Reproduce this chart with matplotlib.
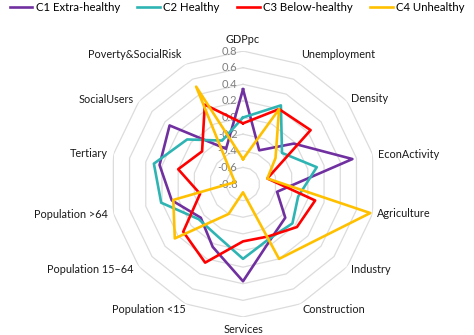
import numpy as np
import matplotlib
matplotlib.use("Agg")
import matplotlib.pyplot as plt

plt.rcParams['font.family'] = ['Lato', 'DejaVu Sans']

# categorias (ejes del radar), en sentido horario desde arriba
categorias = ["GDPpc", "Unemployment", "Density", "EconActivity", "Agriculture",
              "Industry", "Construction", "Services", "Population <15",
              "Population 15\u201364", "Population >64", "Tertiary",
              "SocialUsers", "Poverty&SocialRisk"]

c1 = [0.34, -0.35, -0.02, 0.55, -0.38, -0.15, -0.05, 0.37, 0.04, -0.15, 0.08, 0.23, 0.33, -0.33]
c2 = [0.00, 0.25, -0.20, 0.11, -0.12, -0.04, -0.07, 0.10, -0.10, -0.12, 0.21, 0.30, 0.06, -0.22]
c3 = [-0.07, 0.20, 0.24, -0.50, 0.09, 0.03, -0.10, -0.11, 0.25, 0.12, -0.27, 0.00, -0.17, 0.26]
c4 = [-0.50, 0.20, -0.30, -0.50, 0.77, 0.30, 0.20, -0.70, -0.40, 0.25, 0.06, -0.70, -0.63, 0.50]

nombres = ["C1 Extra-healthy", "C2 Healthy", "C3 Below-healthy", "C4 Unhealthy"]
colores = ["#7030A0", "#2FB4B4", "#FF0000", "#FFC000"]

niveles = [-0.8, -0.6, -0.4, -0.2, 0.0, 0.2, 0.4, 0.6, 0.8]

n = len(categorias)
ang = np.arange(n) * 2 * np.pi / n
ang_c = np.append(ang, ang[0])

fig = plt.figure(figsize=(4.74, 3.35), dpi=100)
ax = fig.add_axes([0.2321, 0.0537, 0.5612, 0.794], projection="polar")
ax.set_theta_zero_location("N")
ax.set_theta_direction(-1)
ax.set_ylim(-0.8, 0.8)
ax.grid(False)
ax.spines["polar"].set_visible(False)
ax.set_xticks([])
ax.set_yticks([])
ax.patch.set_alpha(0)

# anillos poligonales (rejilla)
for v in niveles[1:]:
    ax.plot(ang_c, [v] * (n + 1), color="#DCDCDC", lw=0.9, zorder=1)

# etiquetas del eje radial
for v in niveles:
    ax.annotate("{:.1f}".format(v), xy=(0, v), xytext=(-4, 0), textcoords="offset points",
                ha="right", va="center", fontsize=8, color="#7F7F7F", zorder=2)

# series
for datos, nombre, col in zip([c1, c2, c3, c4], nombres, colores):
    d = list(datos) + [datos[0]]
    ax.plot(ang_c, d, color=col, lw=1.9, label=nombre, zorder=3)

# etiquetas de categorias
offs = [(0, 4, "center", "bottom"), (0, 3, "left", "bottom"), (3, 2, "left", "center"),
        (4, 0, "left", "center"), (3, 0, "left", "center"), (3, -2, "left", "center"),
        (1, -4, "left", "center"), (0, -5, "center", "top"), (0, -4, "right", "center"),
        (-4, -2, "right", "center"), (-4, -1, "right", "center"), (-4, 1, "right", "center"),
        (-4, 1, "right", "center"), (-3, 3, "right", "bottom")]
for a, etiqueta, (ox, oy, ha, va) in zip(ang, categorias, offs):
    ax.annotate(etiqueta, xy=(a, 0.8), xytext=(ox, oy), textcoords="offset points",
                ha=ha, va=va, fontsize=7.8, color="#1A1A1A")

fig.legend(loc="upper center", bbox_to_anchor=(0.5, 1.025), ncol=4, frameon=False,
           fontsize=8.2, handlelength=2.0, handletextpad=0.3, columnspacing=1.5)

fig.savefig("out.png", dpi=100)
